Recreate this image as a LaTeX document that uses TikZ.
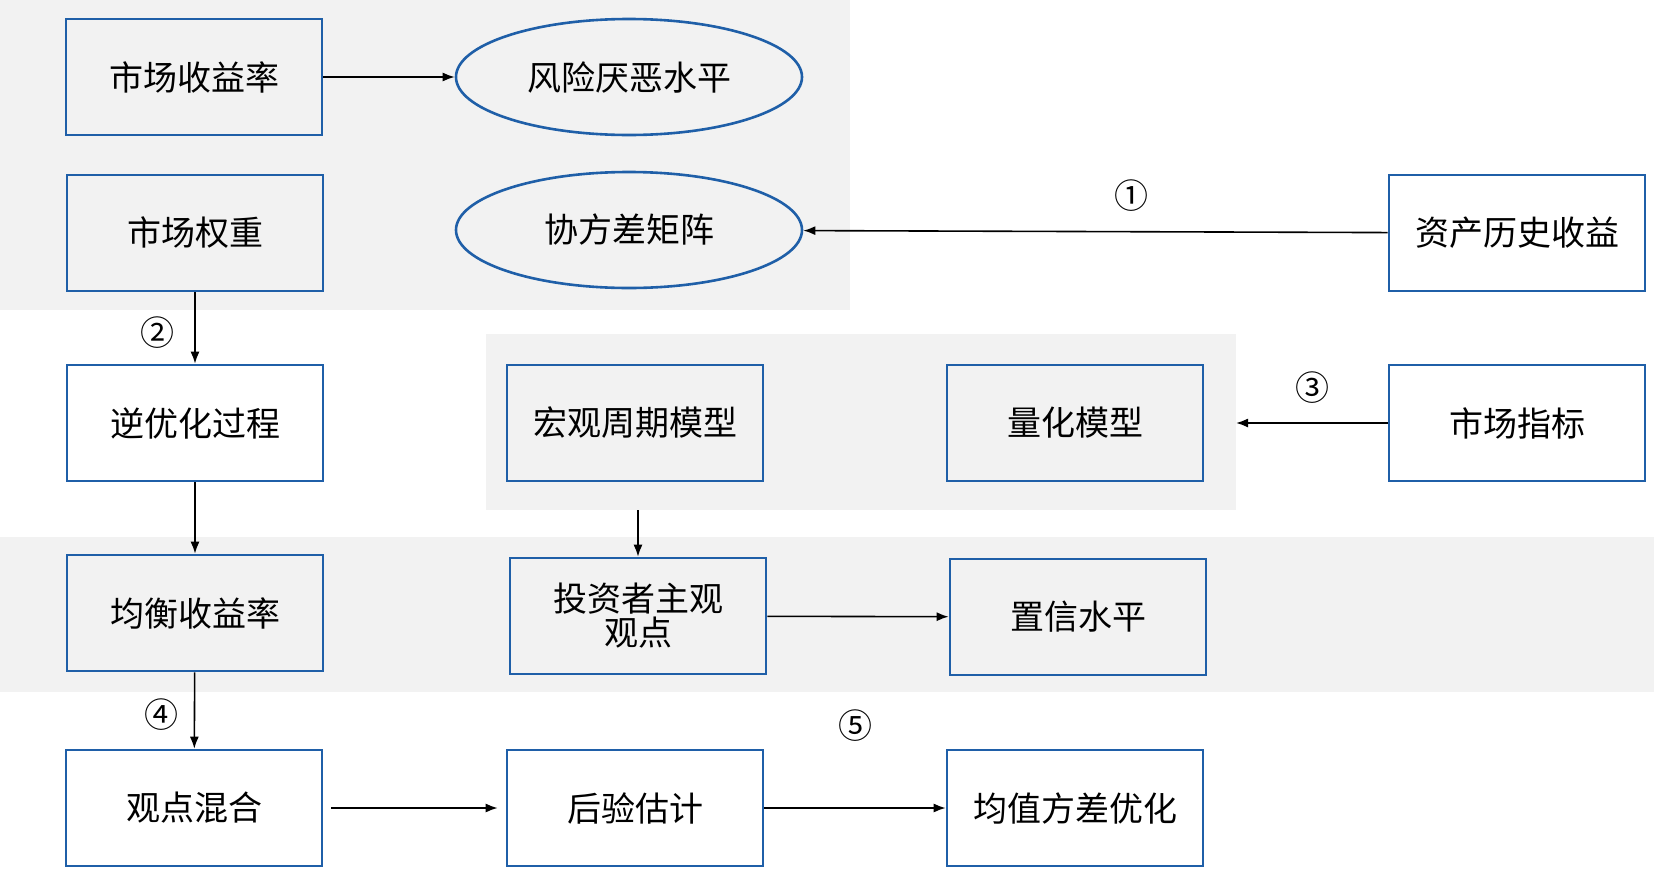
\documentclass[tikz,border=0pt]{standalone}
\usepackage{fontspec}
\setmainfont{Noto Sans CJK SC}
\usetikzlibrary{arrows.meta,shapes.geometric}
\definecolor{bx}{HTML}{1F5FA8}
\definecolor{bg}{HTML}{F2F2F2}
\begin{document}
\begin{tikzpicture}[x=0.5pt,y=-0.5pt,
  box/.style={draw=bx,line width=1.3pt,minimum width=128pt,minimum height=58pt,inner sep=0pt,font=\fontsize{17}{20}\selectfont,align=center},
  ell/.style={draw=bx,line width=1.3pt,ellipse,minimum width=173pt,minimum height=58pt,inner sep=0pt,font=\fontsize{17}{20}\selectfont},
  arr/.style={-{Latex[length=6pt,width=4.5pt]},line width=0.8pt},
  lab/.style={font=\fontsize{17}{20}\selectfont}]
\useasboundingbox (0,0) rectangle (1654,868);
\fill[bg] (0,0) rectangle (850,310);
\fill[bg] (486,334) rectangle (1236,510);
\fill[bg] (0,537) rectangle (1654,692);
\coordinate (g2s) at (638,510);
\coordinate (g2e) at (1236,423);
\node[box] (a) at (194,77) {市场收益率};
\node[ell] (b) at (629,77) {风险厌恶水平};
\node[box] (c) at (195,233) {市场权重};
\node[ell] (d) at (629,230) {协方差矩阵};
\node[box] (e) at (1517,233) {资产历史收益};
\node[box] (f) at (195,423) {逆优化过程};
\node[box] (g) at (635,423) {宏观周期模型};
\node[box] (h) at (1075,423) {量化模型};
\node[box] (i) at (1517,423) {市场指标};
\node[box] (j) at (195,613) {均衡收益率};
\node[box] (k) at (638,616) {投资者主观\\[-3pt]观点};
\node[box] (l) at (1078,617) {置信水平};
\node[box] (m) at (194,808) {观点混合};
\node[box] (n) at (635,808) {后验估计};
\node[box] (o) at (1075,808) {均值方差优化};
\draw[arr] (a) -- (b);
\draw[arr] (e) -- (d);
\draw[arr] (c) -- (f);
\draw[arr] (f) -- (j);
\draw[arr] (i.west) -- (g2e);
\draw[arr] (g2s) -- (k);
\draw[arr] (k) -- (l);
\draw[arr] (j) -- (m);
\draw[arr,shorten <=4pt,shorten >=4pt] (m) -- (n);
\draw[arr] (n) -- (o);
\node[lab] (n1) at (1131,196) {①};
\node[lab] (n2) at (157,333) {②};
\node[lab] (n3) at (1312,388) {③};
\node[lab] (n4) at (161,715) {④};
\node[lab] (n5) at (855,726) {⑤};
\end{tikzpicture}
\end{document}
